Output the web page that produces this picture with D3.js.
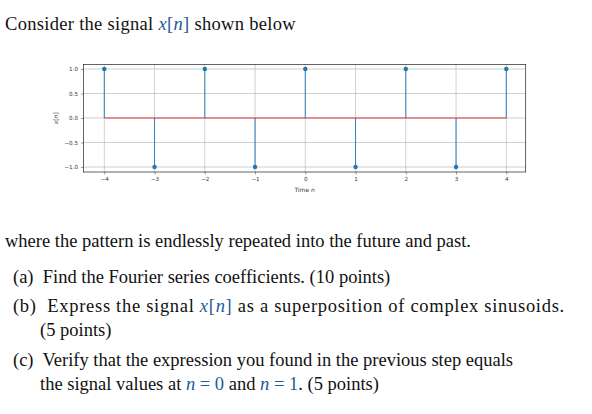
<!DOCTYPE html>
<html><head><meta charset="utf-8">
<script src="https://cdn.jsdelivr.net/npm/d3@7"></script>
<style>body{margin:0;background:#fff}</style></head>
<body><svg id="c" width="592" height="414"></svg>
<script>
// stem data: sample times and values
const times = [-4, -3, -2, -1, 0, 1, 2, 3, 4];
const values = [1, -1, 1, -1, 1, -1, 1, -1, 1];
const yTicks = [-1.0, -0.5, 0.0, 0.5, 1.0];

const svg = d3.select("#c");
const fx = d3.scaleLinear().domain([-4, 4]).range([104.3, 506.3]);
const fy = d3.scaleLinear().domain([-1, 1]).range([167, 69]);
const L = 83.5, R = 525.7, T = 64.5, B = 172;

// grid
svg.append("g").selectAll("line").data(times).join("line")
  .attr("x1", d => fx(d)).attr("x2", d => fx(d)).attr("y1", T).attr("y2", B)
  .attr("stroke", "#b0b0b0").attr("stroke-width", 0.6);
svg.append("g").selectAll("line").data(yTicks).join("line")
  .attr("y1", d => fy(d)).attr("y2", d => fy(d)).attr("x1", L).attr("x2", R)
  .attr("stroke", "#b0b0b0").attr("stroke-width", 0.6);

// axes
const ax = svg.append("g").attr("transform", `translate(0,${B})`)
  .call(d3.axisBottom(fx).tickValues(times).tickSize(2.5).tickFormat(d => String(d).replace("-", "\u2212")));
const ay = svg.append("g").attr("transform", `translate(${L},0)`)
  .call(d3.axisLeft(fy).tickValues(yTicks).tickSize(2.5).tickFormat(d => d3.format(".1f")(d).replace("-", "\u2212")));
[ax, ay].forEach(g => {
  g.select(".domain").remove();
  g.selectAll("text").attr("font-family", "DejaVu Sans").attr("font-size", 5.6).attr("fill", "#333");
  g.selectAll("line").attr("stroke", "#333").attr("stroke-width", 0.5);
});
svg.append("rect").attr("x", L).attr("y", T).attr("width", R - L).attr("height", B - T)
  .attr("fill", "none").attr("stroke", "#222").attr("stroke-width", 0.7);

// stems
svg.append("g").selectAll("line").data(times).join("line")
  .attr("x1", d => fx(d)).attr("x2", d => fx(d)).attr("y1", fy(0)).attr("y2", (d, i) => fy(values[i]))
  .attr("stroke", "#1f77b4").attr("stroke-width", 0.9);
svg.append("line").attr("x1", fx(-4)).attr("x2", fx(4)).attr("y1", fy(0)).attr("y2", fy(0))
  .attr("stroke", "#d62728").attr("stroke-width", 0.9);
svg.append("g").selectAll("circle").data(times).join("circle")
  .attr("cx", d => fx(d)).attr("cy", (d, i) => fy(values[i])).attr("r", 2.2).attr("fill", "#1f77b4");

svg.append("text").attr("x", (L + R) / 2).attr("y", 192).attr("text-anchor", "middle")
  .attr("font-family", "DejaVu Sans").attr("font-size", 6).attr("fill", "#333")
  .html('Time <tspan font-style="italic">n</tspan>');
svg.append("text").attr("transform", `translate(58,${(T + B) / 2}) rotate(-90)`).attr("text-anchor", "middle")
  .attr("font-family", "DejaVu Sans").attr("font-size", 6).attr("fill", "#333")
  .html('<tspan font-style="italic">x</tspan>[<tspan font-style="italic">n</tspan>]');

// prose lines: [x, baseline, letter-spacing, segments]; 1 = math italic, 2 = math upright
const M = "#1e5a96";
const lines = [
  [5, 30, 0.3, [["Consider the signal "], ["x", 1], ["[", 2], ["n", 1], ["]", 2], [" shown below"]]],
  [5, 247, 0, [["where the pattern is endlessly repeated into the future and past."]]],
  [13, 283, 0, [["(a)  Find the Fourier series coefficients. (10 points)"]]],
  [13, 312, 0.7, [["(b)  Express the signal "], ["x", 1], ["[", 2], ["n", 1], ["]", 2], [" as a superposition of complex sinusoids."]]],
  [40, 336, 0, [["(5 points)"]]],
  [13, 366, 0, [["(c)  Verify that the expression you found in the previous step equals"]]],
  [40, 390, 0, [["the signal values at "], ["n", 1], [" = 0", 2], [" and "], ["n", 1], [" = 1", 2], [". (5 points)"]]]
];
lines.forEach(([x, y, ls, segs]) => {
  const t = svg.append("text").attr("x", x).attr("y", y)
    .attr("font-family", "Liberation Serif").attr("font-size", 18.5).attr("fill", "#111")
    .attr("letter-spacing", ls).attr("xml:space", "preserve");
  segs.forEach(s => {
    const ts = t.append("tspan").text(s[0]);
    if (s[1]) ts.attr("fill", M);
    if (s[1] === 1) ts.attr("font-style", "italic");
  });
});
</script></body></html>
